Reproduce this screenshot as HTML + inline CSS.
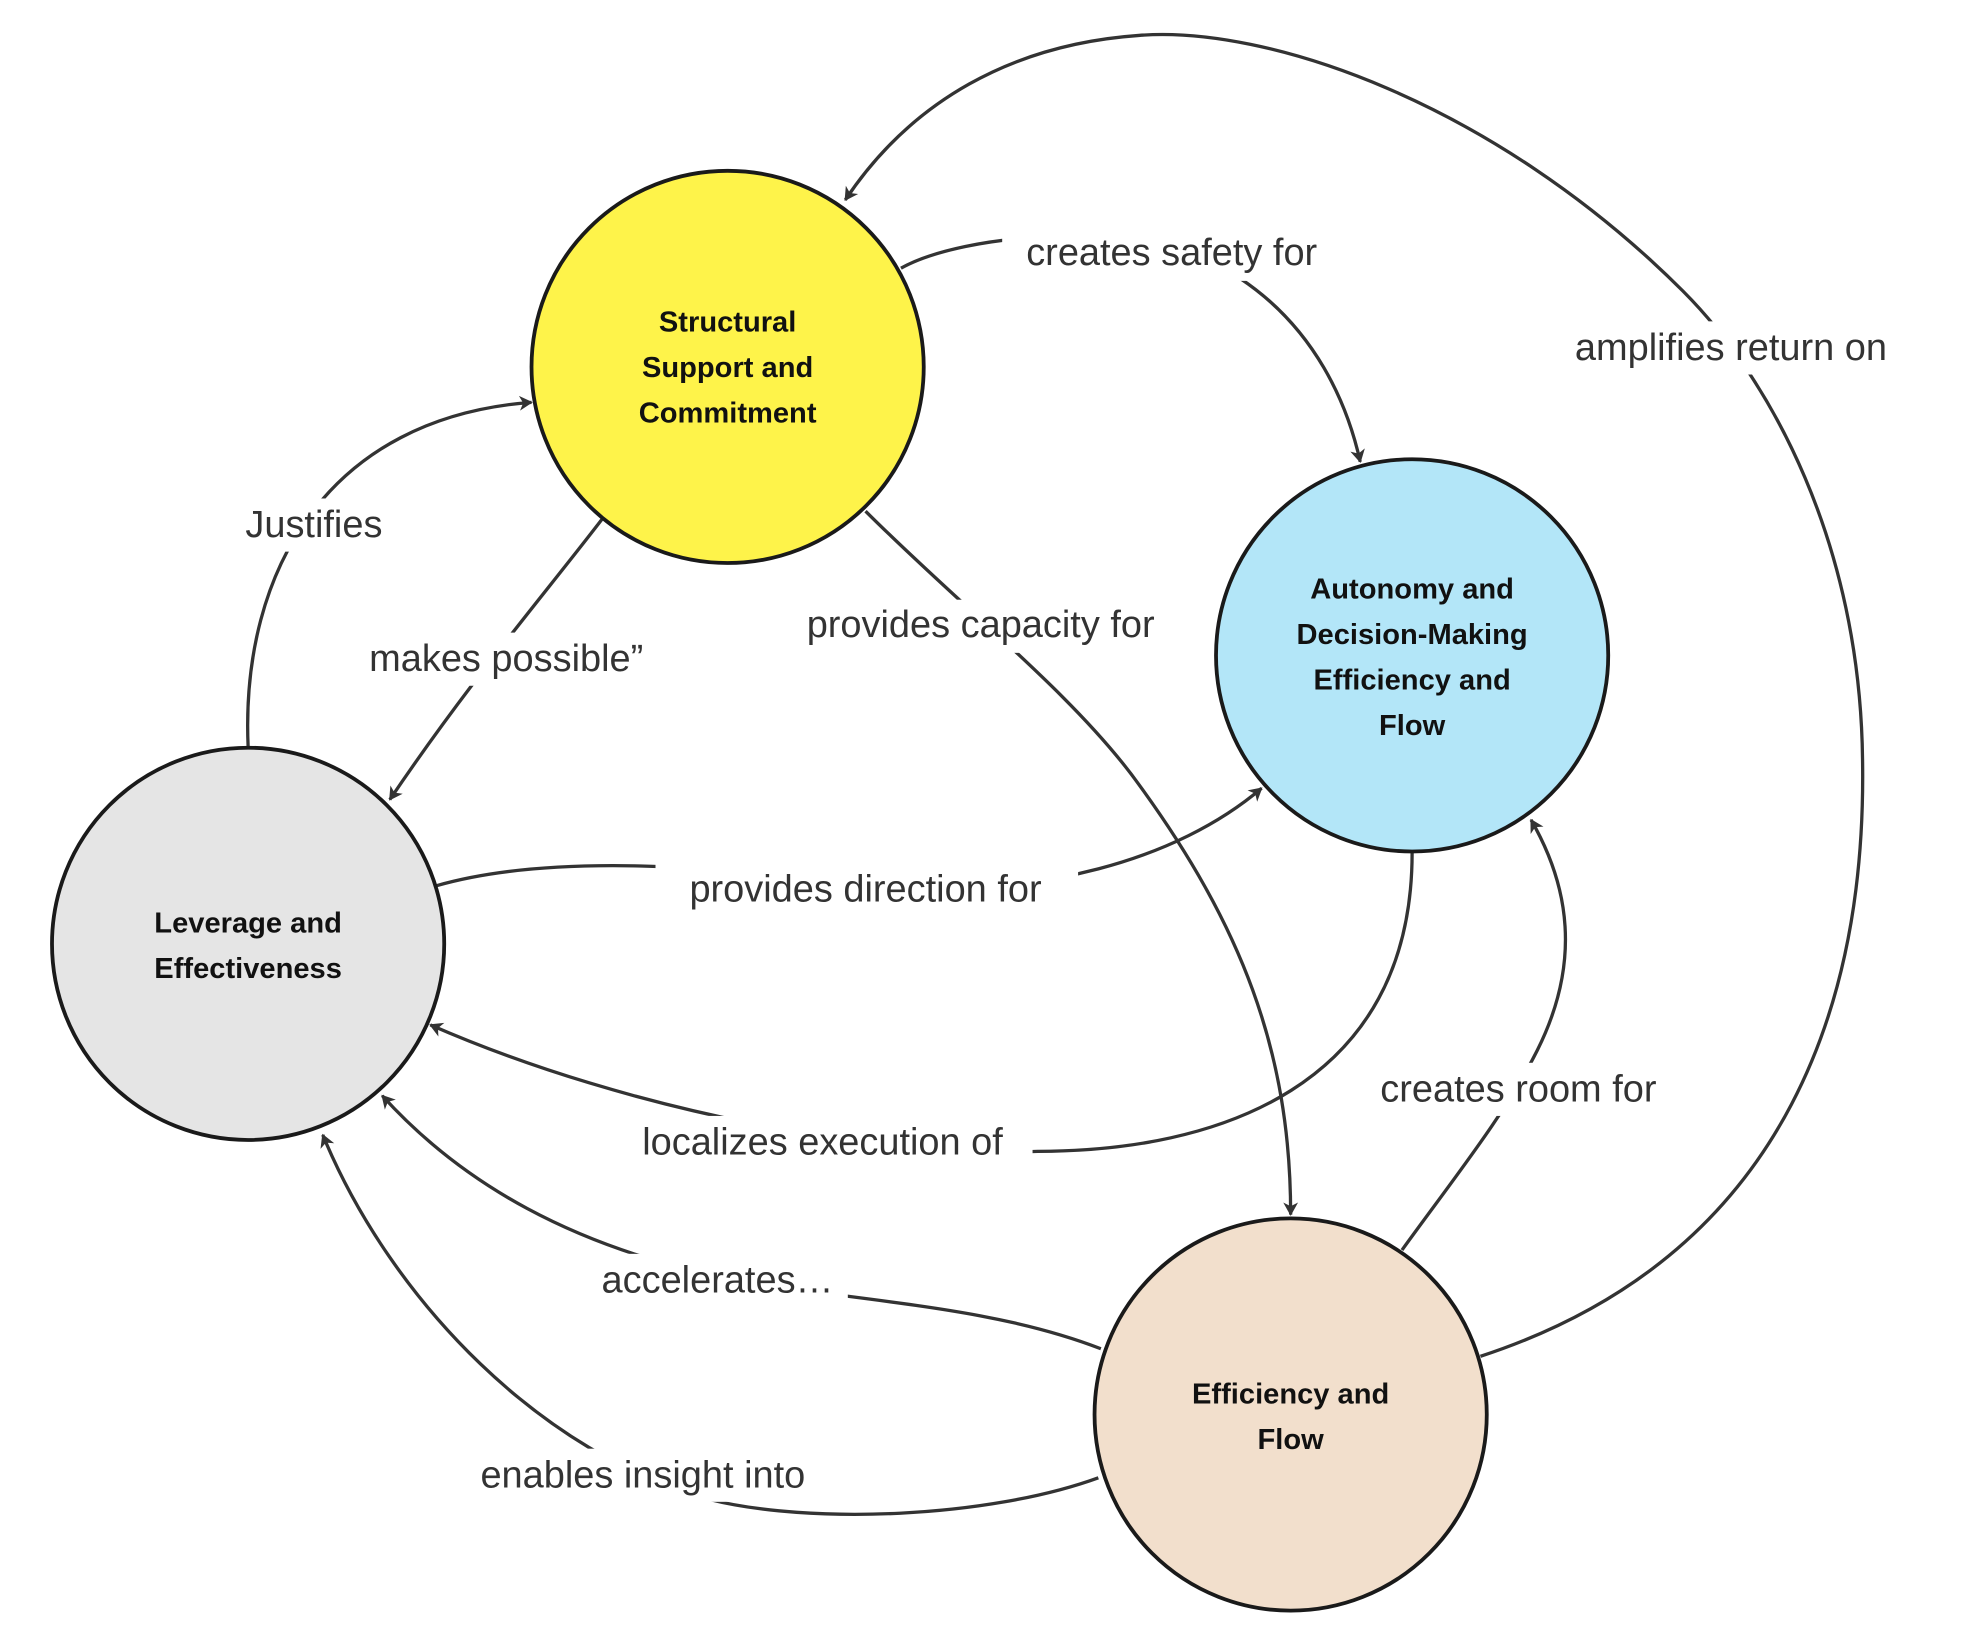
<!DOCTYPE html>
<html><head><meta charset="utf-8"><style>
html,body{margin:0;padding:0;background:#fff;}
svg{display:block;}
.lbl{font-family:"Liberation Sans",sans-serif;font-size:30px;fill:#333;text-anchor:middle;dominant-baseline:central;}
.nd{font-family:"Liberation Sans",sans-serif;font-size:23px;font-weight:bold;fill:#111;text-anchor:middle;dominant-baseline:central;}
.e{fill:none;stroke:#333;stroke-width:2.6;}
</style></head><body>
<svg width="1974" height="1641" viewBox="0 0 1560 1297" xmlns="http://www.w3.org/2000/svg">
<defs>
<marker id="a" viewBox="0 0 20 20" refX="16" refY="10" markerWidth="9" markerHeight="9" markerUnits="userSpaceOnUse" orient="auto" style="overflow:visible">
<path d="M0,0 L18,10 L0,20 L5,10 Z" fill="#333" transform="scale(1.3) translate(-4,-2.3)"/>
</marker>
</defs>
<rect width="1560" height="1297" fill="#fff"/>
<!-- edges -->
<path class="e" marker-end="url(#a)" d="M1170,1072 C1420,990 1475,780 1472,600 C1470,430 1400,300 1330,230 C1180,80 1000,20 900,28 C800,35 720,80 668,158"/>
<path class="e" marker-end="url(#a)" d="M712,212 C760,185 900,170 980,220 C1040,260 1065,320 1075,365"/>
<path class="e" marker-end="url(#a)" d="M684,404 C760,480 850,550 900,620 C980,730 1020,830 1020,960"/>
<path class="e" marker-end="url(#a)" d="M476,410 C430,470 370,540 308,632"/>
<path class="e" marker-end="url(#a)" d="M196,590 C190,450 260,330 420,318"/>
<path class="e" marker-end="url(#a)" d="M345,700 C450,670 600,690 700,700 C820,710 930,680 997,623"/>
<path class="e" marker-end="url(#a)" d="M1116,674 C1116,860 960,910 820,910 C700,915 500,880 340,810"/>
<path class="e" marker-end="url(#a)" d="M1108,988 C1150,930 1190,880 1215,830 C1250,760 1240,700 1210,648"/>
<path class="e" marker-end="url(#a)" d="M870,1066 C790,1035 700,1030 600,1015 C450,990 360,930 302,866"/>
<path class="e" marker-end="url(#a)" d="M868,1168 C780,1200 640,1205 560,1185 C430,1150 310,1030 255,897"/>
<!-- nodes -->
<circle cx="575" cy="290" r="155" fill="#fef34a" stroke="#1a1a1a" stroke-width="3"/>
<circle cx="1116" cy="518" r="155" fill="#b3e6f8" stroke="#1a1a1a" stroke-width="3"/>
<circle cx="196" cy="746" r="155" fill="#e5e5e5" stroke="#1a1a1a" stroke-width="3"/>
<circle cx="1020" cy="1118" r="155" fill="#f2dfcc" stroke="#1a1a1a" stroke-width="3"/>
<text class="nd" x="575" y="255">Structural</text>
<text class="nd" x="575" y="291">Support and</text>
<text class="nd" x="575" y="327">Commitment</text>
<text class="nd" x="1116" y="466">Autonomy and</text>
<text class="nd" x="1116" y="502">Decision-Making</text>
<text class="nd" x="1116" y="538">Efficiency and</text>
<text class="nd" x="1116" y="574">Flow</text>
<text class="nd" x="196" y="730">Leverage and</text>
<text class="nd" x="196" y="766">Effectiveness</text>
<text class="nd" x="1020" y="1102">Efficiency and</text>
<text class="nd" x="1020" y="1138">Flow</text>
<!-- labels -->
<g>
<rect x="1222" y="254" width="294" height="42" fill="#fff"/><text class="lbl" x="1368" y="275">amplifies return on</text>
<rect x="792" y="180" width="268" height="42" fill="#fff"/><text class="lbl" x="926" y="200">creates safety for</text>
<rect x="614" y="474" width="322" height="42" fill="#fff"/><text class="lbl" x="775" y="494">provides capacity for</text>
<rect x="276" y="500" width="250" height="42" fill="#fff"/><text class="lbl" x="400" y="521">makes possible”</text>
<rect x="186" y="394" width="124" height="42" fill="#fff"/><text class="lbl" x="248" y="415">Justifies</text>
<rect x="518" y="682" width="334" height="42" fill="#fff"/><text class="lbl" x="684" y="703">provides direction for</text>
<rect x="486" y="882" width="330" height="42" fill="#fff"/><text class="lbl" x="650" y="903">localizes execution of</text>
<rect x="1070" y="840" width="260" height="42" fill="#fff"/><text class="lbl" x="1200" y="861">creates room for</text>
<rect x="464" y="991" width="206" height="42" fill="#fff"/><text class="lbl" x="567" y="1012">accelerates…</text>
<rect x="356" y="1145" width="304" height="42" fill="#fff"/><text class="lbl" x="508" y="1166">enables insight into</text>
</g>
</svg>
</body></html>
